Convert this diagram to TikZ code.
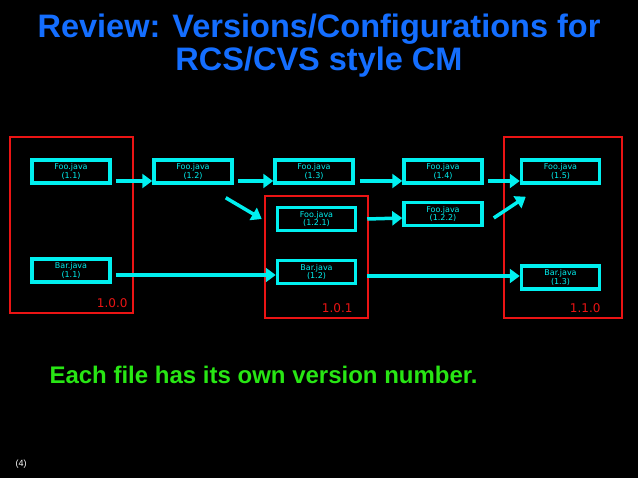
\documentclass[tikz,border=0pt]{standalone}
\usepackage{fontspec}
\setmainfont{Liberation Sans}
\newfontfamily\smallf{DejaVu Sans}
\usetikzlibrary{arrows.meta}
\definecolor{cy}{RGB}{0,240,240}
\definecolor{tb}{RGB}{20,110,255}
\definecolor{rd}{RGB}{235,20,20}
\definecolor{gr}{RGB}{40,230,20}
\begin{document}
\begin{tikzpicture}[x=1pt,y=-1pt,
  fbox/.style={draw=cy,line width=3.5pt,minimum width=78pt,minimum height=23pt,inner sep=0pt,text=cy,font=\smallf\fontsize{8}{8.5}\selectfont,align=center},
  grp/.style={draw=rd,line width=2.5pt},
  glab/.style={text=rd,font=\smallf\fontsize{12}{12}\selectfont,anchor=east},
  arr/.style={draw=cy,line width=3.5pt,-{Triangle[length=10pt,width=14pt]}}]
\fill[black] (0,0) rectangle (638,478);
\useasboundingbox (0,0) rectangle (638,478);
\node[text=tb,font=\bfseries\fontsize{32.5}{33}\selectfont,align=center] (title) at (319,46) {Review: Versions/Configurations for\\RCS/CVS style CM};
\draw[grp] (10,137) rectangle (133,313);
\draw[grp] (265,196) rectangle (368,318);
\draw[grp] (504,137) rectangle (622,318);
\node[glab] (g1) at (131,303) {1.0.0};
\node[glab] (g2) at (356,308) {1.0.1};
\node[glab] (g3) at (604,308) {1.1.0};
\node[fbox] (f11) at (71,171.5) {Foo.java\\(1.1)};
\node[fbox] (f12) at (193,171.5) {Foo.java\\(1.2)};
\node[fbox] (f13) at (314,171.5) {Foo.java\\(1.3)};
\node[fbox] (f14) at (443,171.5) {Foo.java\\(1.4)};
\node[fbox] (f15) at (560.5,171.5) {Foo.java\\(1.5)};
\node[fbox] (f121) at (316.5,219) {Foo.java\\(1.2.1)};
\node[fbox] (f122) at (443,214) {Foo.java\\(1.2.2)};
\node[fbox] (b11) at (71,270.5) {Bar.java\\(1.1)};
\node[fbox] (b12) at (316.5,272) {Bar.java\\(1.2)};
\node[fbox] (b13) at (560.5,277.5) {Bar.java\\(1.3)};
\draw[arr] ([xshift=4pt,yshift=-9.5pt]f11.east) -- ([yshift=-9.5pt]f12.west);
\draw[arr] ([xshift=4pt,yshift=-9.5pt]f12.east) -- ([yshift=-9.5pt]f13.west);
\draw[arr] ([xshift=5pt,yshift=-9.5pt]f13.east) -- ([yshift=-9.5pt]f14.west);
\draw[arr] ([xshift=4pt,yshift=-9.5pt]f14.east) -- ([yshift=-9.5pt]f15.west);
\draw[arr] ([xshift=-8pt,yshift=-13pt]f12.south east) -- ([xshift=-14pt]f121.west);
\draw[arr] ([xshift=10pt]f121.east) -- ([yshift=-4pt]f122.west);
\draw[arr] ([xshift=10pt,yshift=-4pt]f122.east) -- ([xshift=6pt,yshift=-12pt]f15.south west);
\draw[arr] ([xshift=4pt,yshift=-4.5pt]b11.east) -- ([yshift=-3pt]b12.west);
\draw[arr] ([xshift=10pt,yshift=-4pt]b12.east) -- ([yshift=1.5pt]b13.west);
\node[text=gr,font=\bfseries\fontsize{24}{26}\selectfont,anchor=west] (note) at (46,375) {Each file has its own version number.};
\node[text=white,font=\fontsize{9}{10}\selectfont,anchor=west] (pg) at (12,464) {(4)};
\end{tikzpicture}
\end{document}
